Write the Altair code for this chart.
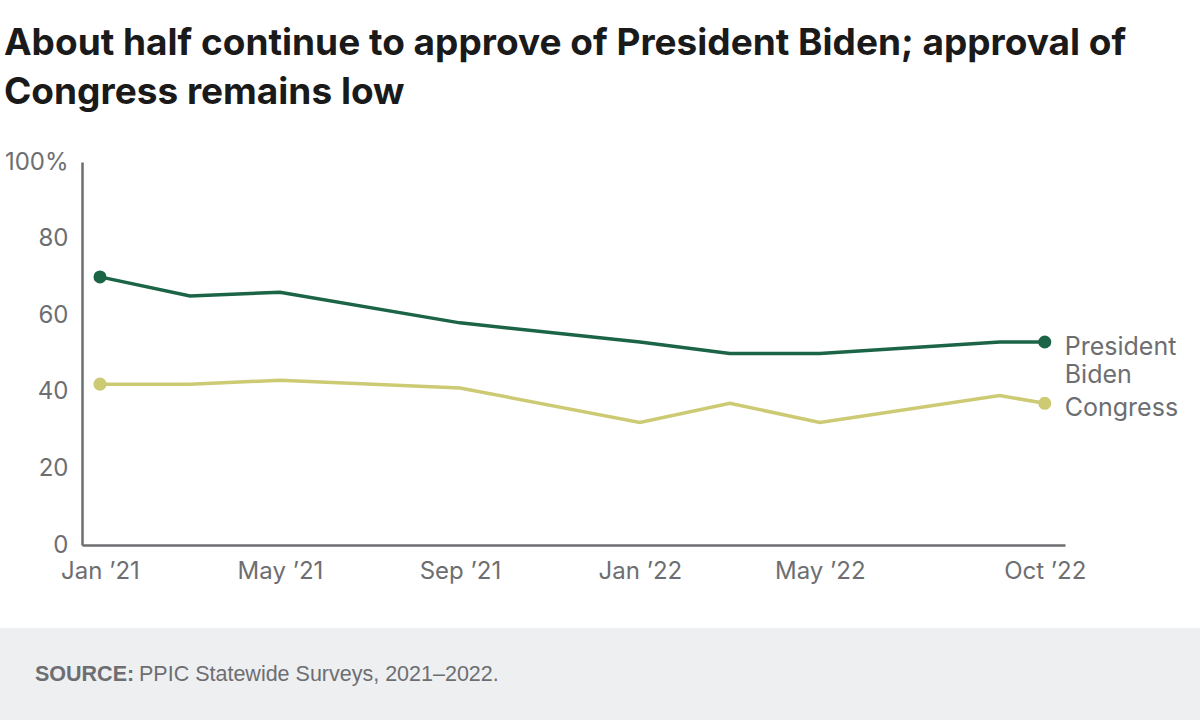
import altair as alt
import pandas as pd

# ---- data ----
months = [0, 2, 4, 8, 12, 14, 16, 20, 21]          # months since Jan 2021
biden = [70, 65, 66, 58, 53, 50, 50, 53, 53]
congress = [42, 42, 43, 41, 32, 37, 32, 39, 37]
series_names = ["President Biden", "Congress"]
series_labels = ["President\nBiden", "Congress"]
series_colors = ["#1b6446", "#cdca74"]

tick_months = [0, 4, 8, 12, 16, 21]
tick_labels = ["Jan \u201921", "May \u201921", "Sep \u201921", "Jan \u201922", "May \u201922", "Oct \u201922"]

title_lines = ["About half continue to approve of President Biden; approval of",
               "Congress remains low"]
source_bold = "SOURCE:"
source_rest = "PPIC Statewide Surveys, 2021\u20132022."

rows = []
for name, lab, vals in zip(series_names, series_labels, [biden, congress]):
    for i, (m, v) in enumerate(zip(months, vals)):
        rows.append({"series": name, "label": lab, "month": m, "value": v,
                     "end": i == len(months) - 1, "endpt": i in (0, len(months) - 1)})
df = pd.DataFrame(rows)

GRAY = "#6d6e71"
FONT = "Inter"

label_expr = "[" + ",".join("'" + t + "'" for t in tick_labels) + "][indexof([" + \
    ",".join(str(m) for m in tick_months) + "], datum.value)]"

x = alt.X("month:Q", scale=alt.Scale(domain=[-0.4, 21.45], nice=False, zero=False),
          axis=alt.Axis(values=tick_months, labelExpr=label_expr, title=None, grid=False,
                        ticks=False, domainColor=GRAY, domainWidth=2.5, labelColor=GRAY,
                        labelFont=FONT, labelFontSize=24, labelPadding=14, labelFlush=False))
y = alt.Y("value:Q", scale=alt.Scale(domain=[0, 100], nice=False),
          axis=alt.Axis(values=[0, 20, 40, 60, 80, 100], title=None, grid=False, ticks=False,
                        domainColor=GRAY, domainWidth=2.5, labelColor=GRAY, labelFont=FONT,
                        labelFontSize=24, labelPadding=14,
                        labelExpr="datum.value == 100 ? '100%' : datum.label"))
color = alt.Color("series:N", scale=alt.Scale(domain=series_names, range=series_colors), legend=None)

base = alt.Chart(df)
lines = base.mark_line(strokeWidth=3.5).encode(x=x, y=y, color=color)
points = base.mark_circle(size=170, opacity=1).encode(x=x, y=y, color=color).transform_filter("datum.endpt")
labels = base.mark_text(align="left", baseline="middle", dx=20, dy=5, font=FONT, fontSize=25,
                        color=GRAY, lineBreak="\n", lineHeight=28).encode(
    x=x, y=y, text="label:N").transform_filter("datum.end")

one = pd.DataFrame({"a": [0]})
box = alt.Chart(one).mark_rect(color="#eeeff1").encode(
    x=alt.value(-82), x2=alt.value(1118), y=alt.value(466), y2=alt.value(558))
src1 = alt.Chart(one).mark_text(align="left", baseline="alphabetic", font="Liberation Sans",
                                fontSize=21.5, fontWeight="bold", color=GRAY, text=source_bold).encode(
    x=alt.value(-47), y=alt.value(519))
src2 = alt.Chart(one).mark_text(align="left", baseline="alphabetic", font="Liberation Sans",
                                fontSize=21.5, color=GRAY, text=source_rest).encode(
    x=alt.value(57), y=alt.value(519))
t1 = alt.Chart(one).mark_text(align="left", baseline="alphabetic", font=FONT, fontSize=37,
                              fontWeight="bold", color="#1a1a1a", text=title_lines[0]).encode(
    x=alt.value(-78), y=alt.value(-107))
t2 = alt.Chart(one).mark_text(align="left", baseline="alphabetic", font=FONT, fontSize=37,
                              fontWeight="bold", color="#1a1a1a", text=title_lines[1]).encode(
    x=alt.value(-78), y=alt.value(-58))

chart = alt.layer(box, src1, src2, t1, t2, lines, points, labels).properties(
    width=983, height=383,
    autosize=alt.AutoSizeParams(type="none"),
    padding={"left": 82, "top": 162, "right": 135, "bottom": 175},
    background="white",
).configure_view(stroke=None)

chart.save("out.html", embed_options={"renderer": "svg", "actions": False})
